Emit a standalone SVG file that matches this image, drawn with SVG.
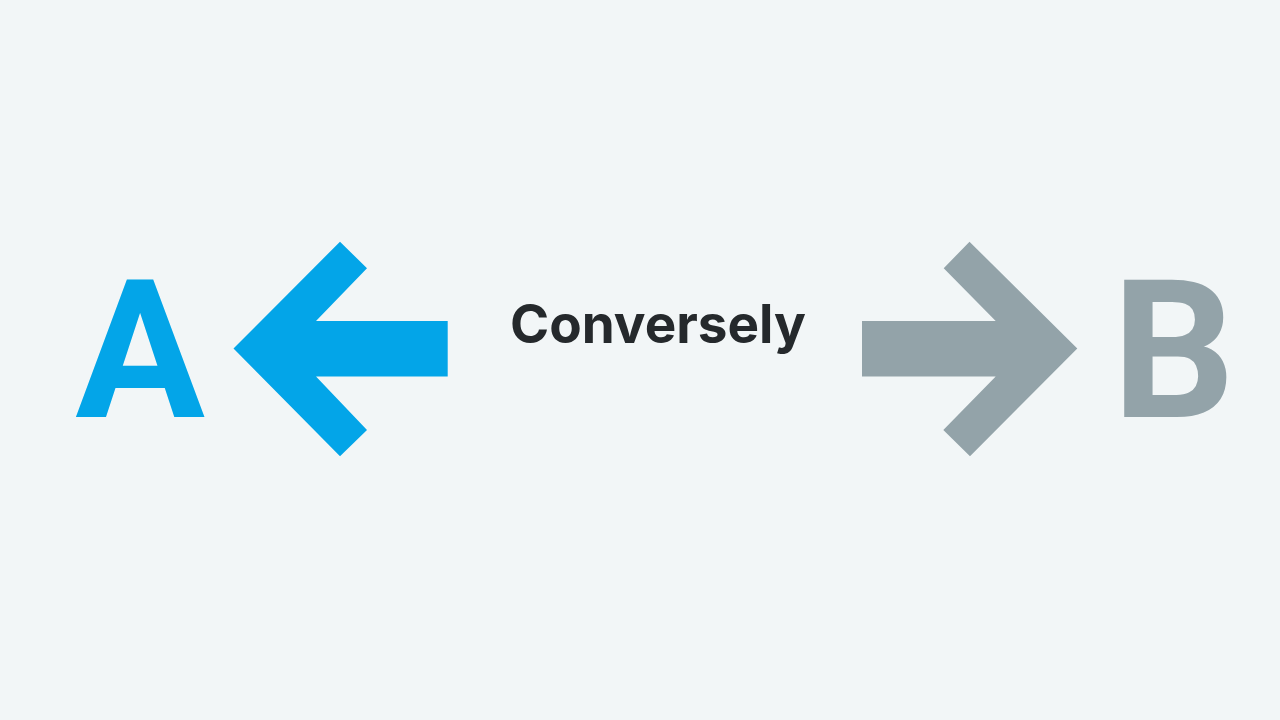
<svg xmlns="http://www.w3.org/2000/svg" width="1280" height="720" viewBox="0 0 1280 720">
  <style>
    .big { font-family: Roboto, "Liberation Sans", sans-serif; font-weight: 700; font-size: 193px; }
    .blue { fill: #03a5e8; }
    .grey { fill: #93a3a9; }
    .label { font-family: Inter, "Liberation Sans", sans-serif; font-weight: 700; font-size: 53px; fill: #25292c; }
  </style>
  <rect id="background" width="1280" height="720" fill="#f2f6f7"/>
  <g id="node-a"><text class="big blue" x="140" y="417" text-anchor="middle">A</text></g>
  <g id="node-label"><text class="label" x="658" y="343" text-anchor="middle">Conversely</text></g>
  <g id="node-b"><text class="big grey" x="1173.5" y="417" text-anchor="middle">B</text></g>
  <g id="connectors">
    <polygon class="blue" points="233.5,348.5 340,241.7 367,268.3 316,321 447.7,321 447.7,376.5 316,376.5 367,430 340,456.3"/>
    <polygon class="grey" points="1077.3,348.5 969.5,241.7 943.7,268.3 995.7,321 862,321 862,376.5 995.7,376.5 943.3,430 970,456.3"/>
  </g>
</svg>
